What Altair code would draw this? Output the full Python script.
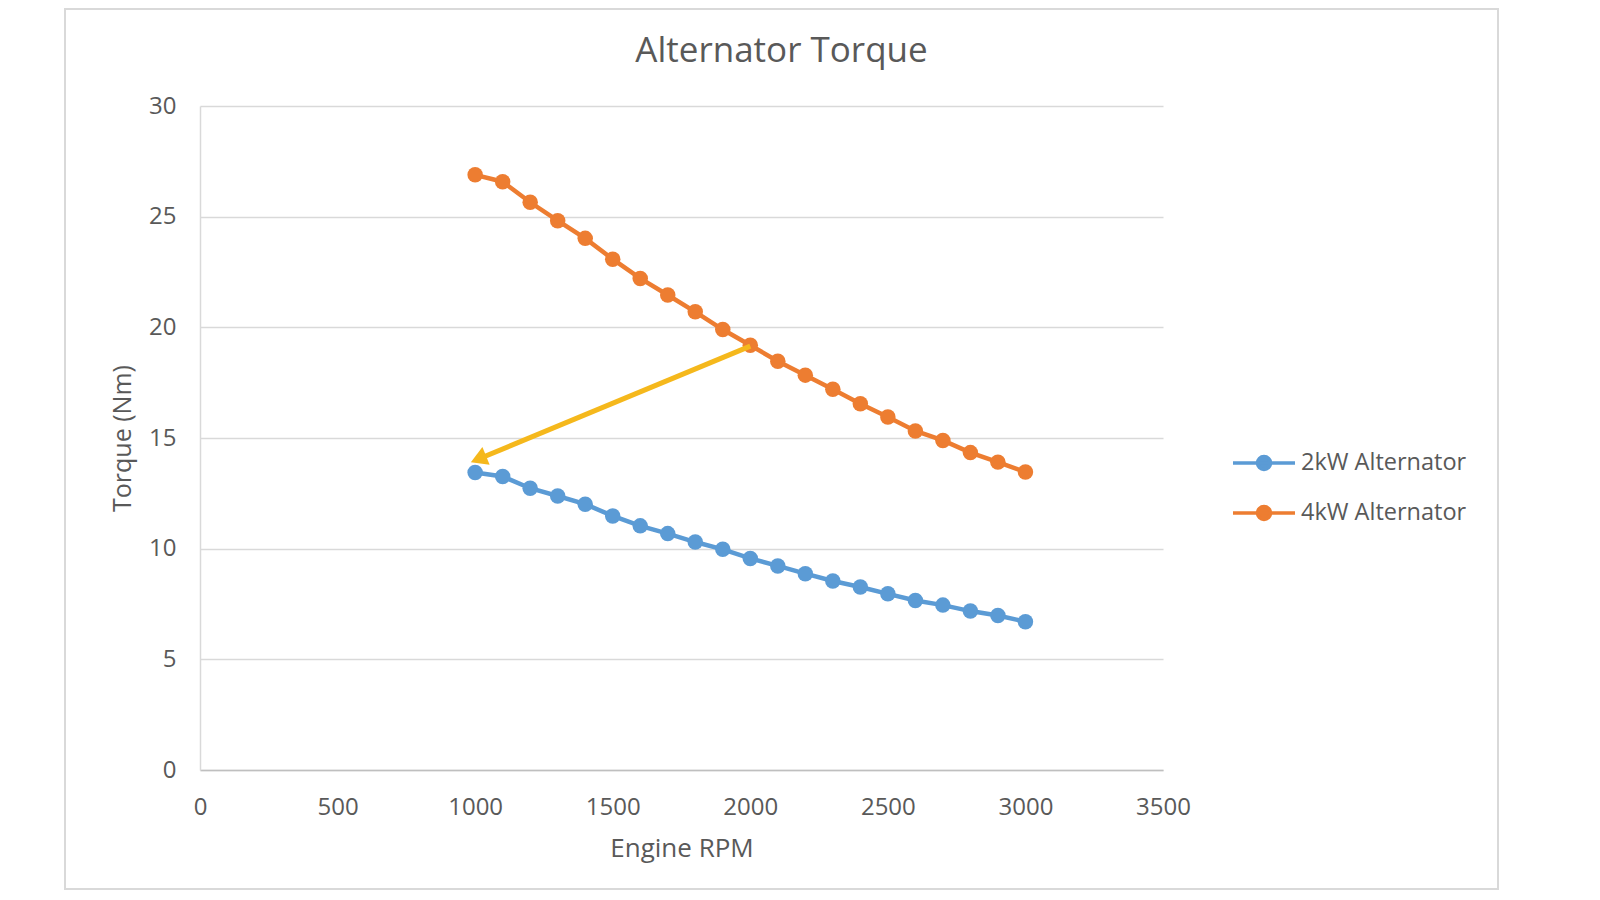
import altair as alt
import pandas as pd

rpm = [1000, 1100, 1200, 1300, 1400, 1500, 1600, 1700, 1800, 1900, 2000,
       2100, 2200, 2300, 2400, 2500, 2600, 2700, 2800, 2900, 3000]
torque_2kw = [13.44, 13.26, 12.73, 12.38, 12.01, 11.48, 11.03, 10.68, 10.30, 9.97, 9.56,
              9.22, 8.87, 8.54, 8.27, 7.96, 7.66, 7.45, 7.18, 6.98, 6.70]
torque_4kw = [26.89, 26.58, 25.65, 24.82, 24.02, 23.08, 22.21, 21.46, 20.70, 19.90, 19.19,
              18.47, 17.84, 17.20, 16.55, 15.95, 15.32, 14.89, 14.34, 13.91, 13.46]
series_names = ["2kW Alternator", "4kW Alternator"]
series_colors = ["#5B9BD5", "#ED7D31"]

arrow_x = [2000, 1012]
arrow_y = [19.15, 14.05]

x_ticks = [0, 500, 1000, 1500, 2000, 2500, 3000, 3500]
y_ticks = [0, 5, 10, 15, 20, 25, 30]

rows = []
for r, a, b in zip(rpm, torque_2kw, torque_4kw):
    rows.append({"rpm": r, "torque": a, "series": series_names[0]})
    rows.append({"rpm": r, "torque": b, "series": series_names[1]})
df = pd.DataFrame(rows)

arrow_df = pd.DataFrame({"x": [arrow_x[0]], "y": [arrow_y[0]],
                         "x2": [arrow_x[1]], "y2": [arrow_y[1]]})
head_df = pd.DataFrame({"x": [arrow_x[1]], "y": [arrow_y[1]]})

FONT = "Open Sans"
TXT = "#595959"
W, H = 963, 664

xscale = alt.Scale(domain=[0, 3500], nice=False)
yscale = alt.Scale(domain=[0, 30], nice=False)

xenc = alt.X("rpm:Q", scale=xscale,
             axis=alt.Axis(title="Engine RPM", values=x_ticks, grid=False, ticks=False,
                           format="d", labelFlush=False, labelPadding=25, titlePadding=16,
                           titleFontSize=26, domainColor="#BFBFBF", domainWidth=1.5))
yenc = alt.Y("torque:Q", scale=yscale,
             axis=alt.Axis(title="Torque (Nm)", values=y_ticks, ticks=False,
                           labelFlush=False, labelPadding=24, titlePadding=13,
                           titleFontSize=25, gridColor="#D9D9D9", gridWidth=1.5,
                           domainColor="#D9D9D9", domainWidth=1.5))

sym_path = ("M-3.1,0H3.1M-0.65,0A0.65,0.65,0,1,1,0.65,0"
            "A0.65,0.65,0,1,1,-0.65,0Z")

color = alt.Color("series:N", scale=alt.Scale(domain=series_names, range=series_colors),
                  legend=alt.Legend(title=None, orient="none", legendX=1052, legendY=345,
                                    symbolType=sym_path, symbolSize=400,
                                    symbolStrokeWidth=3.5, labelOffset=25, labelLimit=300,
                                    rowPadding=22, labelFontSize=23.5, labelColor=TXT,
                                    labelFont=FONT, padding=0))

lines = alt.Chart(df).mark_line(strokeWidth=4.5).encode(x=xenc, y=yenc, color=color)
points = alt.Chart(df).mark_point(filled=True, size=240, opacity=1).encode(
    x="rpm:Q", y="torque:Q", color=alt.Color("series:N", legend=None))

arrow = alt.Chart(arrow_df).mark_rule(color="#F5B81C", strokeWidth=5).encode(
    x="x:Q", y="y:Q", x2="x2:Q", y2="y2:Q")
head = alt.Chart(head_df).mark_point(shape="triangle-up", filled=True, size=360,
                                     color="#F5B81C", opacity=1, angle=247.5).encode(
    x="x:Q", y="y:Q")

frame = alt.Chart(head_df).mark_rect(fill=None, stroke="#D9D9D9", strokeWidth=2).encode(
    x=alt.value(-135), x2=alt.value(1298), y=alt.value(-97), y2=alt.value(783))

chart = alt.layer(frame, lines, points, arrow, head).properties(
    width=W, height=H, background="white",
    title=alt.TitleParams("Alternator Torque", fontSize=35, font=FONT, color=TXT,
                          fontWeight="normal", anchor="middle", frame="group",
                          dx=100, offset=-61),
    autosize=alt.AutoSizeParams(type="none"),
    padding={"left": 192, "top": 98, "right": 400, "bottom": 120},
).configure_view(stroke=None).configure_axis(
    labelFont=FONT, titleFont=FONT, labelFontSize=24, titleFontSize=24,
    labelColor=TXT, titleColor=TXT, titleFontWeight="normal"
)

chart.save("out.html", embed_options={"renderer": "svg", "actions": False})
